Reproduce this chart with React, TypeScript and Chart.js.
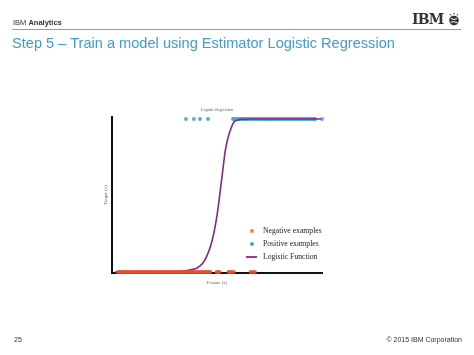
import React, { useEffect, useRef } from "react";
import { Chart, registerables } from "chart.js";

Chart.register(...registerables);

// ---- Text ----
const HEADER_LEFT_A = "IBM ";
const HEADER_LEFT_B = "Analytics";
const SLIDE_TITLE = "Step 5 – Train a model using Estimator Logistic Regression";
const PAGE_NUMBER = "25";
const COPYRIGHT = "© 2015 IBM Corporation";
const CHART_TITLE = "Logistic Regression";
const X_TITLE = "Feature (x)";
const Y_TITLE = "Target (y)";
const SERIES_LABELS = ["Negative examples", "Positive examples", "Logistic Function"];

// ---- Data ----
const NEGATIVE_Y = 0;
const POSITIVE_Y = 1;

const negativeX = [
  0.29, 0.35, 0.42, 0.5, 0.55, 0.63, 0.7, 0.78, 0.84, 0.92, 1.0, 1.07, 1.13, 1.21, 1.3, 1.36,
  1.44, 1.5, 1.58, 1.66, 1.72, 1.8, 1.87, 1.95, 2.02, 2.1, 2.17, 2.24, 2.32, 2.4, 2.46, 2.54,
  2.61, 2.69, 2.76, 2.83, 2.9, 2.98, 3.05, 3.13, 3.2, 3.27, 3.35, 3.42, 3.5, 3.57, 3.64, 3.72,
  3.8, 3.87, 3.94, 4.02, 4.1, 4.17, 4.25, 4.32, 4.4, 4.48, 4.55, 4.62, 4.68,
  4.98, 5.05, 5.12, 5.55, 5.62, 5.7, 5.8, 6.6, 6.7, 6.8,
];

const positiveX = [
  3.52, 3.9, 4.19, 4.57,
  5.76, 5.8, 5.85, 5.9, 5.96, 6.02, 6.1, 6.15, 6.23, 6.3, 6.36, 6.44, 6.5, 6.58, 6.65, 6.71,
  6.8, 6.88, 6.93, 7.01, 7.1, 7.16, 7.24, 7.3, 7.38, 7.45, 7.52, 7.6, 7.67, 7.75, 7.82, 7.9,
  7.97, 8.05, 8.12, 8.2, 8.28, 8.35, 8.42, 8.5, 8.57, 8.65, 8.72, 8.8, 8.88, 8.95, 9.03, 9.1,
  9.18, 9.25, 9.33, 9.4, 9.48, 9.55, 9.62, 9.68, 10.0,
];

const curveX = [0.14, 1.8, 3.2, 3.7, 4.05, 4.33, 4.52, 4.71, 4.86, 5.0, 5.1, 5.19, 5.29, 5.38, 5.52, 5.67, 5.81, 6.0, 6.6, 8.0, 9.95];
const curveY = [0, 0, 0.003, 0.013, 0.026, 0.059, 0.105, 0.176, 0.26, 0.37, 0.47, 0.57, 0.68, 0.78, 0.876, 0.94, 0.98, 0.993, 1, 1, 1];

const X_MIN = 0;
const X_MAX = 10;
const Y_MIN = -0.007;
const Y_MAX = 1.013;

// ---- Colours ----
const NEG_COLOR = "rgba(232,78,44,0.85)";
const POS_COLOR = "rgba(72,166,212,0.9)";
const LINE_COLOR = "#8a2487";

export default function App() {
  const canvasRef = useRef<HTMLCanvasElement | null>(null);

  useEffect(() => {
    if (!canvasRef.current) return;
    const chart = new Chart(canvasRef.current, {
      type: "scatter",
      data: {
        datasets: [
          {
            label: SERIES_LABELS[0],
            data: negativeX.map((x) => ({ x, y: NEGATIVE_Y })),
            backgroundColor: NEG_COLOR,
            borderWidth: 0,
            pointRadius: 2,
            order: 1,
            clip: false,
          },
          {
            label: SERIES_LABELS[1],
            data: positiveX.map((x) => ({ x, y: POSITIVE_Y })),
            backgroundColor: POS_COLOR,
            borderWidth: 0,
            pointRadius: 2,
            order: 3,
            clip: false,
          },
          {
            label: SERIES_LABELS[2],
            type: "line",
            data: curveX.map((x, i) => ({ x, y: curveY[i] })),
            borderColor: LINE_COLOR,
            borderWidth: 1.6,
            pointRadius: 0,
            cubicInterpolationMode: "monotone",
            fill: false,
            order: 2,
            clip: false,
          } as any,
        ],
      },
      options: {
        animation: false,
        responsive: true,
        maintainAspectRatio: false,
        layout: { padding: { left: 0, right: 152, top: 0, bottom: 0 } },
        plugins: {
          legend: { display: false },
          tooltip: { enabled: false },
          title: {
            display: true,
            text: CHART_TITLE,
            fullSize: false,
            color: "#555",
            font: { family: "'Liberation Serif', serif", size: 4, lineHeight: 1.5, weight: "normal" },
            padding: { top: 107, bottom: 4 },
          },
        },
        scales: {
          x: {
            type: "linear",
            min: X_MIN,
            max: X_MAX,
            ticks: { display: false },
            grid: { display: false, drawTicks: false },
            border: { display: true, color: "#111", width: 2 },
            title: {
              display: true,
              text: X_TITLE,
              color: "#555",
              font: { family: "'Liberation Serif', serif", size: 4.5, lineHeight: 1.2 },
              padding: { top: 0, bottom: 69.3 },
            },
            afterFit: (s: any) => {
              s.height = 82;
            },
          },
          y: {
            type: "linear",
            min: Y_MIN,
            max: Y_MAX,
            ticks: { display: false },
            grid: { display: false, drawTicks: false },
            border: { display: true, color: "#111", width: 2 },
            title: {
              display: true,
              text: Y_TITLE,
              color: "#555",
              font: { family: "'Liberation Serif', serif", size: 5, lineHeight: 1.2 },
              padding: { top: 103, bottom: 0 },
            },
            afterFit: (s: any) => {
              s.width = 112;
            },
          },
        },
      },
    });
    return () => chart.destroy();
  }, []);

  const sans = "'Liberation Sans', Arial, sans-serif";
  const serif = "'Liberation Serif', 'Times New Roman', serif";
  const legendText: React.CSSProperties = {
    position: "absolute",
    left: 263,
    fontFamily: serif,
    fontSize: 7.7,
    color: "#222",
    lineHeight: "10px",
    whiteSpace: "nowrap",
  };
  const dot: React.CSSProperties = { position: "absolute", left: 250, width: 4, height: 4, borderRadius: "50%" };

  return (
    <div style={{ position: "absolute", left: 0, top: 0, width: 474, height: 355, background: "#fff", overflow: "hidden" }}>
      <canvas ref={canvasRef} />
      {/* header */}
      <div style={{ position: "absolute", left: 13, top: 18, fontFamily: sans, fontSize: 7.5, color: "#333", whiteSpace: "nowrap", lineHeight: "9px" }}>
        <span>{HEADER_LEFT_A}</span>
        <span style={{ fontWeight: "bold" }}>{HEADER_LEFT_B}</span>
      </div>
      <div style={{ position: "absolute", left: 12, top: 29, width: 449, height: 1, background: "#9a9a9a" }} />
      <div style={{ position: "absolute", left: 412, top: 11, fontFamily: "'DejaVu Serif', serif", fontWeight: "bold", fontSize: 14, color: "#333", lineHeight: "16px", letterSpacing: -0.8 }}>
        IBM
      </div>
      <svg style={{ position: "absolute", left: 448, top: 13 }} width={12} height={14} viewBox="0 0 12 14">
        <circle cx={6} cy={7.5} r={4.8} fill="#333" />
        <path d="M3 5.5 L6 6.5 L9 5.5 M2.5 9.2 L6 8.7 L9.5 9.7" stroke="#fff" strokeWidth={1} fill="none" />
        <path d="M2 1 L3 2.5 M10 1 L9 2.5 M6 0 L6 1.5" stroke="#333" strokeWidth={1} />
      </svg>
      {/* slide title */}
      <div style={{ position: "absolute", left: 12, top: 35, fontFamily: sans, fontSize: 14.6, color: "#3d9bd6", whiteSpace: "nowrap", lineHeight: "16px" }}>
        {SLIDE_TITLE}
      </div>
      {/* legend */}
      <div style={{ ...dot, top: 229, background: "#f0884a" }} />
      <div style={{ ...legendText, top: 226 }}>{SERIES_LABELS[0]}</div>
      <div style={{ ...dot, top: 242, background: "#4aa3c8" }} />
      <div style={{ ...legendText, top: 239 }}>{SERIES_LABELS[1]}</div>
      <div style={{ position: "absolute", left: 246, top: 256, width: 11, height: 2, background: "#9a3a96" }} />
      <div style={{ ...legendText, top: 252 }}>{SERIES_LABELS[2]}</div>
      {/* footer */}
      <div style={{ position: "absolute", left: 14, top: 336, fontFamily: sans, fontSize: 7, color: "#333", lineHeight: "8px" }}>{PAGE_NUMBER}</div>
      <div style={{ position: "absolute", right: 12, top: 336, fontFamily: sans, fontSize: 7, color: "#333", lineHeight: "8px", whiteSpace: "nowrap" }}>{COPYRIGHT}</div>
    </div>
  );
}
